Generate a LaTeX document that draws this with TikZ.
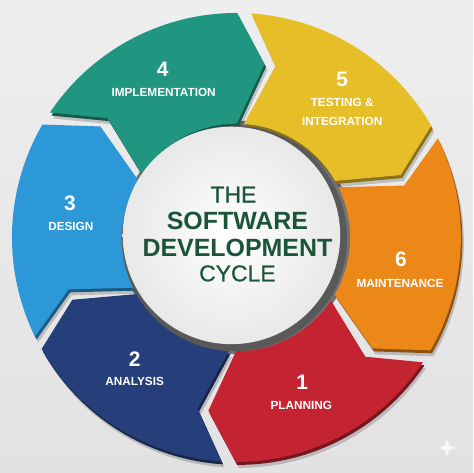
\documentclass[tikz,border=0pt]{standalone}
\usepackage{fontspec}
\setmainfont{Liberation Sans}
\newfontfamily\titlemedium[FakeBold=0.7]{Liberation Sans}
\usepackage{xcolor}
\definecolor{bgtop}{RGB}{238, 238, 238}
\definecolor{bgbottom}{RGB}{226, 226, 226}
\definecolor{planred}{RGB}{196, 36, 50}
\definecolor{analysisblue}{RGB}{38, 62, 122}
\definecolor{designblue}{RGB}{44, 152, 216}
\definecolor{implteal}{RGB}{32, 150, 128}
\definecolor{testyellow}{RGB}{230, 190, 40}
\definecolor{maintorange}{RGB}{236, 136, 24}
\definecolor{titlegreen}{RGB}{27, 85, 57}

% one arrow piece of the ring, #1 = angle of its back (notched) end
\newcommand{\segshape}[1]{({#1-1.8}:225) arc[start angle={#1-1.8}, end angle={#1-58.2}, radius=225]
  -- ({#1-67.2}:176) -- ({#1-58.2}:114) arc[start angle={#1-58.2}, end angle={#1-1.8}, radius=114]
  -- ({#1-10.8}:176) -- cycle}
\newcommand{\cycleseg}[2]{%
  \fill[black, opacity=0.18, shift={(3,-6)}] \segshape{#1};
  \fill[#2!60!black, shift={(1.5,-3)}] \segshape{#1};
  \fill[#2] \segshape{#1};
}

\tikzset{
  stepnum/.style={text=white, font=\bfseries\fontsize{21}{21}\selectfont, anchor=base, inner sep=0pt},
  steplabel/.style={text=white, font=\bfseries\fontsize{11.8}{12}\selectfont, anchor=base, inner sep=0pt},
  titlebold/.style={text=titlegreen, font=\bfseries\fontsize{25}{25}\selectfont, anchor=base, inner sep=0pt},
  titlelight/.style={text=titlegreen, font=\titlemedium\fontsize{23}{23}\selectfont, anchor=base, inner sep=0pt}
}

\begin{document}
\begin{tikzpicture}[x=1pt, y=1pt]
  % Background
  \shade[top color=bgtop, bottom color=bgbottom] (-237,-236) rectangle (237,238);
  \fill[black!55] (0,0) circle (117);
  % Ring segments
  \cycleseg{148}{implteal}
  \cycleseg{88}{testyellow}
  \cycleseg{28}{maintorange}
  \cycleseg{208}{designblue}
  \cycleseg{-92}{analysisblue}
  \cycleseg{-32}{planred}
  % Hub
  \fill[black!65] (-2,-1) circle (113);
  \shade[inner color=white, outer color=black!9] (-5,2) circle (109);
  % Step labels
  \node[stepnum] (num1) at (66,-152) {1};
  \node[steplabel] (lab1) at (65,-172) {PLANNING};
  \node[stepnum] (num2) at (-102,-129) {2};
  \node[steplabel] (lab2) at (-102,-148) {ANALYSIS};
  \node[stepnum] (num3) at (-167,27) {3};
  \node[steplabel] (lab3) at (-166,7) {DESIGN};
  \node[stepnum] (num4) at (-74,161) {4};
  \node[steplabel] (lab4) at (-73,141) {IMPLEMENTATION};
  \node[stepnum] (num5) at (106,151) {5};
  \node[steplabel] (lab5a) at (106,131) {TESTING \&};
  \node[steplabel] (lab5b) at (106,112) {INTEGRATION};
  \node[stepnum] (num6) at (165,-29) {6};
  \node[steplabel] (lab6) at (164,-50) {MAINTENANCE};
  % Title
  \node[titlelight] (the) at (-3,35) {THE};
  \node[titlebold] (soft) at (1,8) {SOFTWARE};
  \node[titlebold] (dev) at (1,-19) {DEVELOPMENT};
  \node[titlelight] (cyc) at (1,-44) {CYCLE};
  % Sparkle
  \fill[white, opacity=0.8] (211,-199) .. controls (212,-210) .. (223,-211)
    .. controls (212,-212) .. (211,-223) .. controls (210,-212) .. (199,-211)
    .. controls (210,-210) .. cycle;
\end{tikzpicture}
\end{document}
